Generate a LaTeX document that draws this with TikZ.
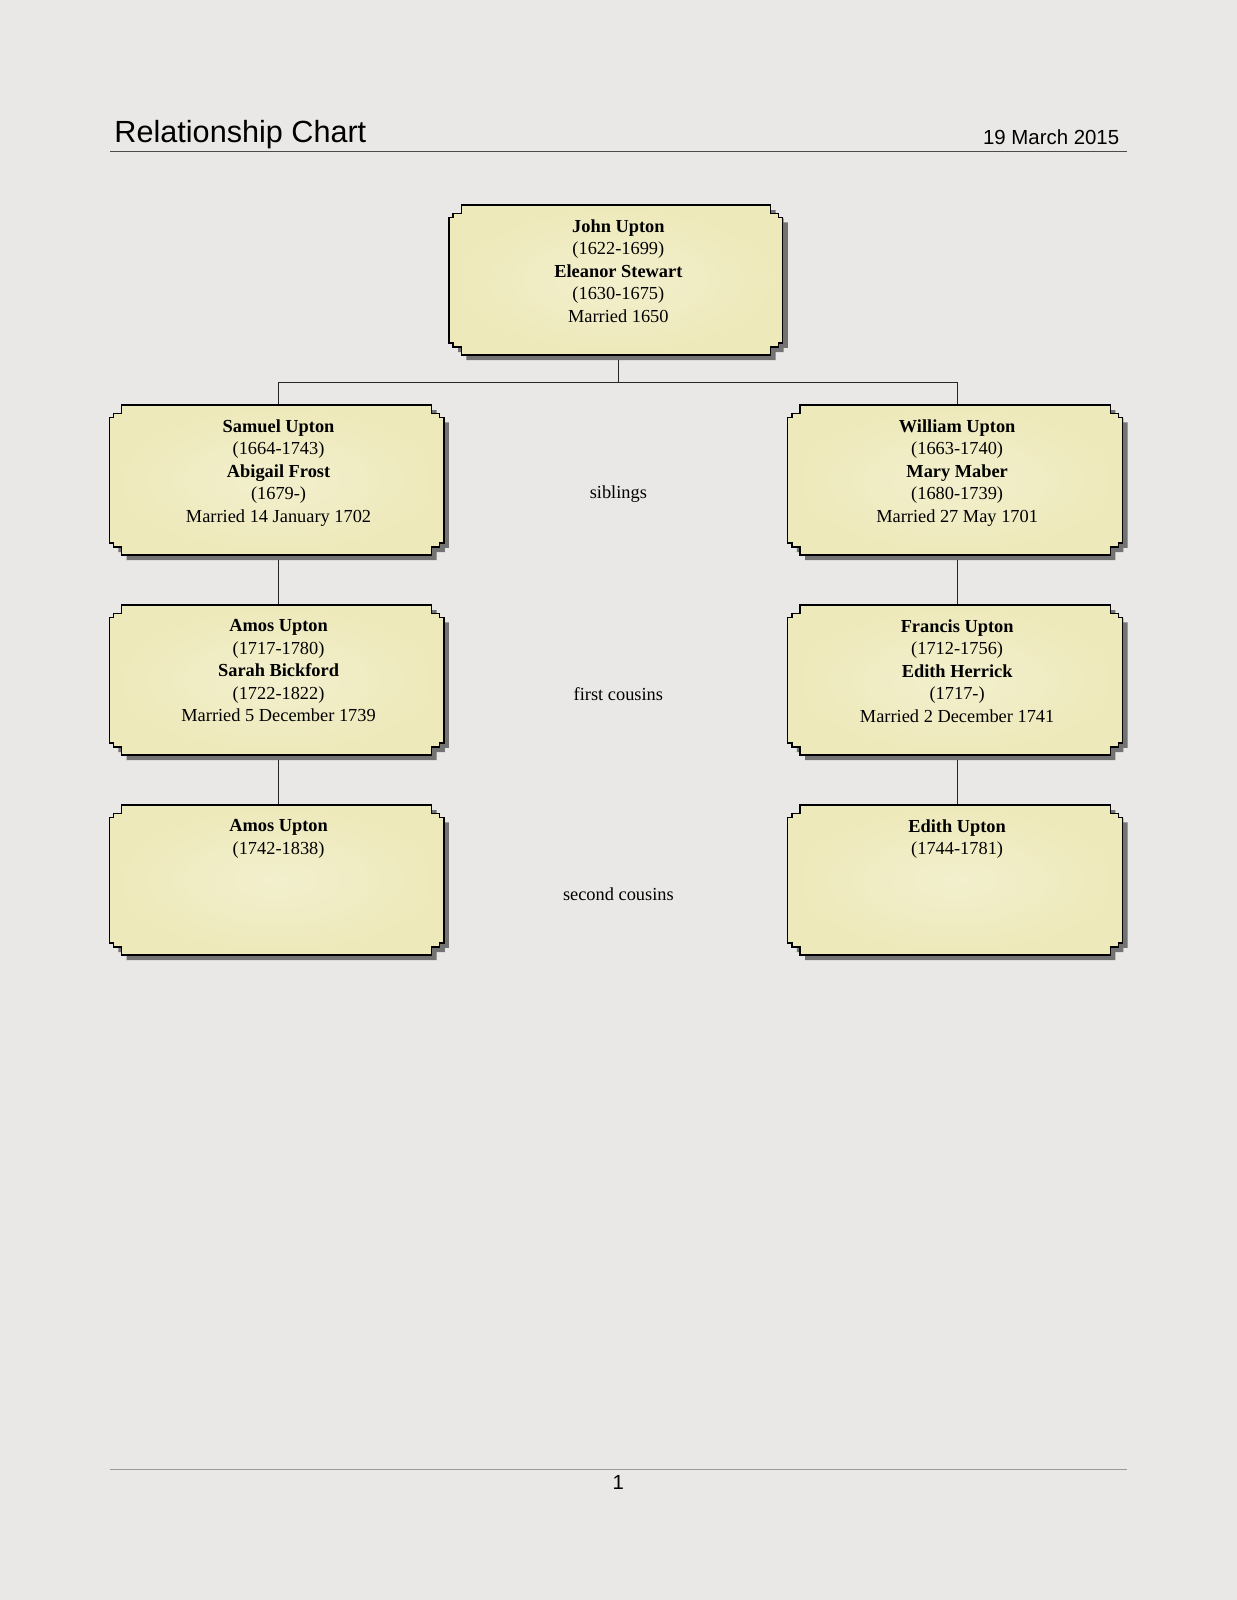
\documentclass[tikz,border=0pt]{standalone}
\usepackage{fontspec}
\setmainfont{Liberation Serif}
\newfontfamily\hdfont{Liberation Sans}
\begin{document}
\begin{tikzpicture}[x=1pt,y=-1pt,
  txt/.style={anchor=north,align=center,font=\fontsize{18}{22}\selectfont,inner sep=0pt},
  rel/.style={font=\fontsize{18}{22}\selectfont},
  conn/.style={draw=black!85,line width=1pt}]
\useasboundingbox[fill={rgb,255:red,234;green,232;blue,230}] (0,0) rectangle (1212,1568);
\definecolor{boxfill}{RGB}{238,233,186}
\newcommand{\notchshape}[4]{(#1+12,#2) -- (#3-12,#2) -- (#3-12,#2+8) -- (#3-4,#2+8) -- (#3-4,#2+12) -- (#3,#2+12) -- (#3,#4-12) -- (#3-4,#4-12) -- (#3-4,#4-8) -- (#3-12,#4-8) -- (#3-12,#4) -- (#1+12,#4) -- (#1+12,#4-8) -- (#1+4,#4-8) -- (#1+4,#4-12) -- (#1,#4-12) -- (#1,#2+12) -- (#1+4,#2+12) -- (#1+4,#2+8) -- (#1+12,#2+8) -- cycle}
\newcommand{\famb}[4]{%
  \fill[black!55] \notchshape{#1+5}{#2+5}{#3+5}{#4+5};
  \draw[line width=1.3pt,fill=boxfill,inner color={rgb,255:red,242;green,239;blue,205},outer color=boxfill] \notchshape{#1}{#2}{#3}{#4};}
% header
\node[anchor=base west,font=\hdfont\fontsize{30}{34}\selectfont,inner sep=0pt] (title) at (112,140) {Relationship Chart};
\node[anchor=base east,font=\hdfont\fontsize{20}{24}\selectfont,inner sep=0pt] (date) at (1097,142) {19 March 2015};
\draw[black!70,line width=0.8pt] (108,148) -- (1104,148);
\draw[black!40,line width=1pt] (108,1440) -- (1104,1440);
\node[anchor=base,font=\hdfont\fontsize{20}{24}\selectfont,inner sep=0pt] (pg) at (606,1460) {1};
% connectors
\coordinate (j) at (606,375);
\draw[conn] (606,348) -- (j);
\draw[conn] (273,397) -- (273,375) -- (938,375) -- (938,397);
\draw[conn] (273,544) -- (273,593);
\draw[conn] (273,740) -- (273,789);
\draw[conn] (938,544) -- (938,593);
\draw[conn] (938,740) -- (938,789);
% boxes
\famb{440}{201}{767}{348}
\famb{107}{397}{435}{544}
\famb{772}{397}{1100}{544}
\famb{107}{593}{435}{740}
\famb{772}{593}{1100}{740}
\famb{107}{789}{435}{936}
\famb{772}{789}{1100}{936}
\node[txt] (jo) at (606,215) {\textbf{John Upton}\\(1622-1699)\\\textbf{Eleanor Stewart}\\(1630-1675)\\Married 1650};
\node[txt] (sa) at (273,411) {\textbf{Samuel Upton}\\(1664-1743)\\\textbf{Abigail Frost}\\(1679-)\\Married 14 January 1702};
\node[txt] (wi) at (938,411) {\textbf{William Upton}\\(1663-1740)\\\textbf{Mary Maber}\\(1680-1739)\\Married 27 May 1701};
\node[txt] (am) at (273,607) {\textbf{Amos Upton}\\(1717-1780)\\\textbf{Sarah Bickford}\\(1722-1822)\\Married 5 December 1739};
\node[txt] (fr) at (938,607) {\textbf{Francis Upton}\\(1712-1756)\\\textbf{Edith Herrick}\\(1717-)\\Married 2 December 1741};
\node[txt] (am2) at (273,803) {\textbf{Amos Upton}\\(1742-1838)};
\node[txt] (ed) at (938,803) {\textbf{Edith Upton}\\(1744-1781)};
\node[rel] (r1) at (606,484) {siblings};
\node[rel] (r2) at (606,680) {first cousins};
\node[rel] (r3) at (606,876) {second cousins};
\end{tikzpicture}
\end{document}
